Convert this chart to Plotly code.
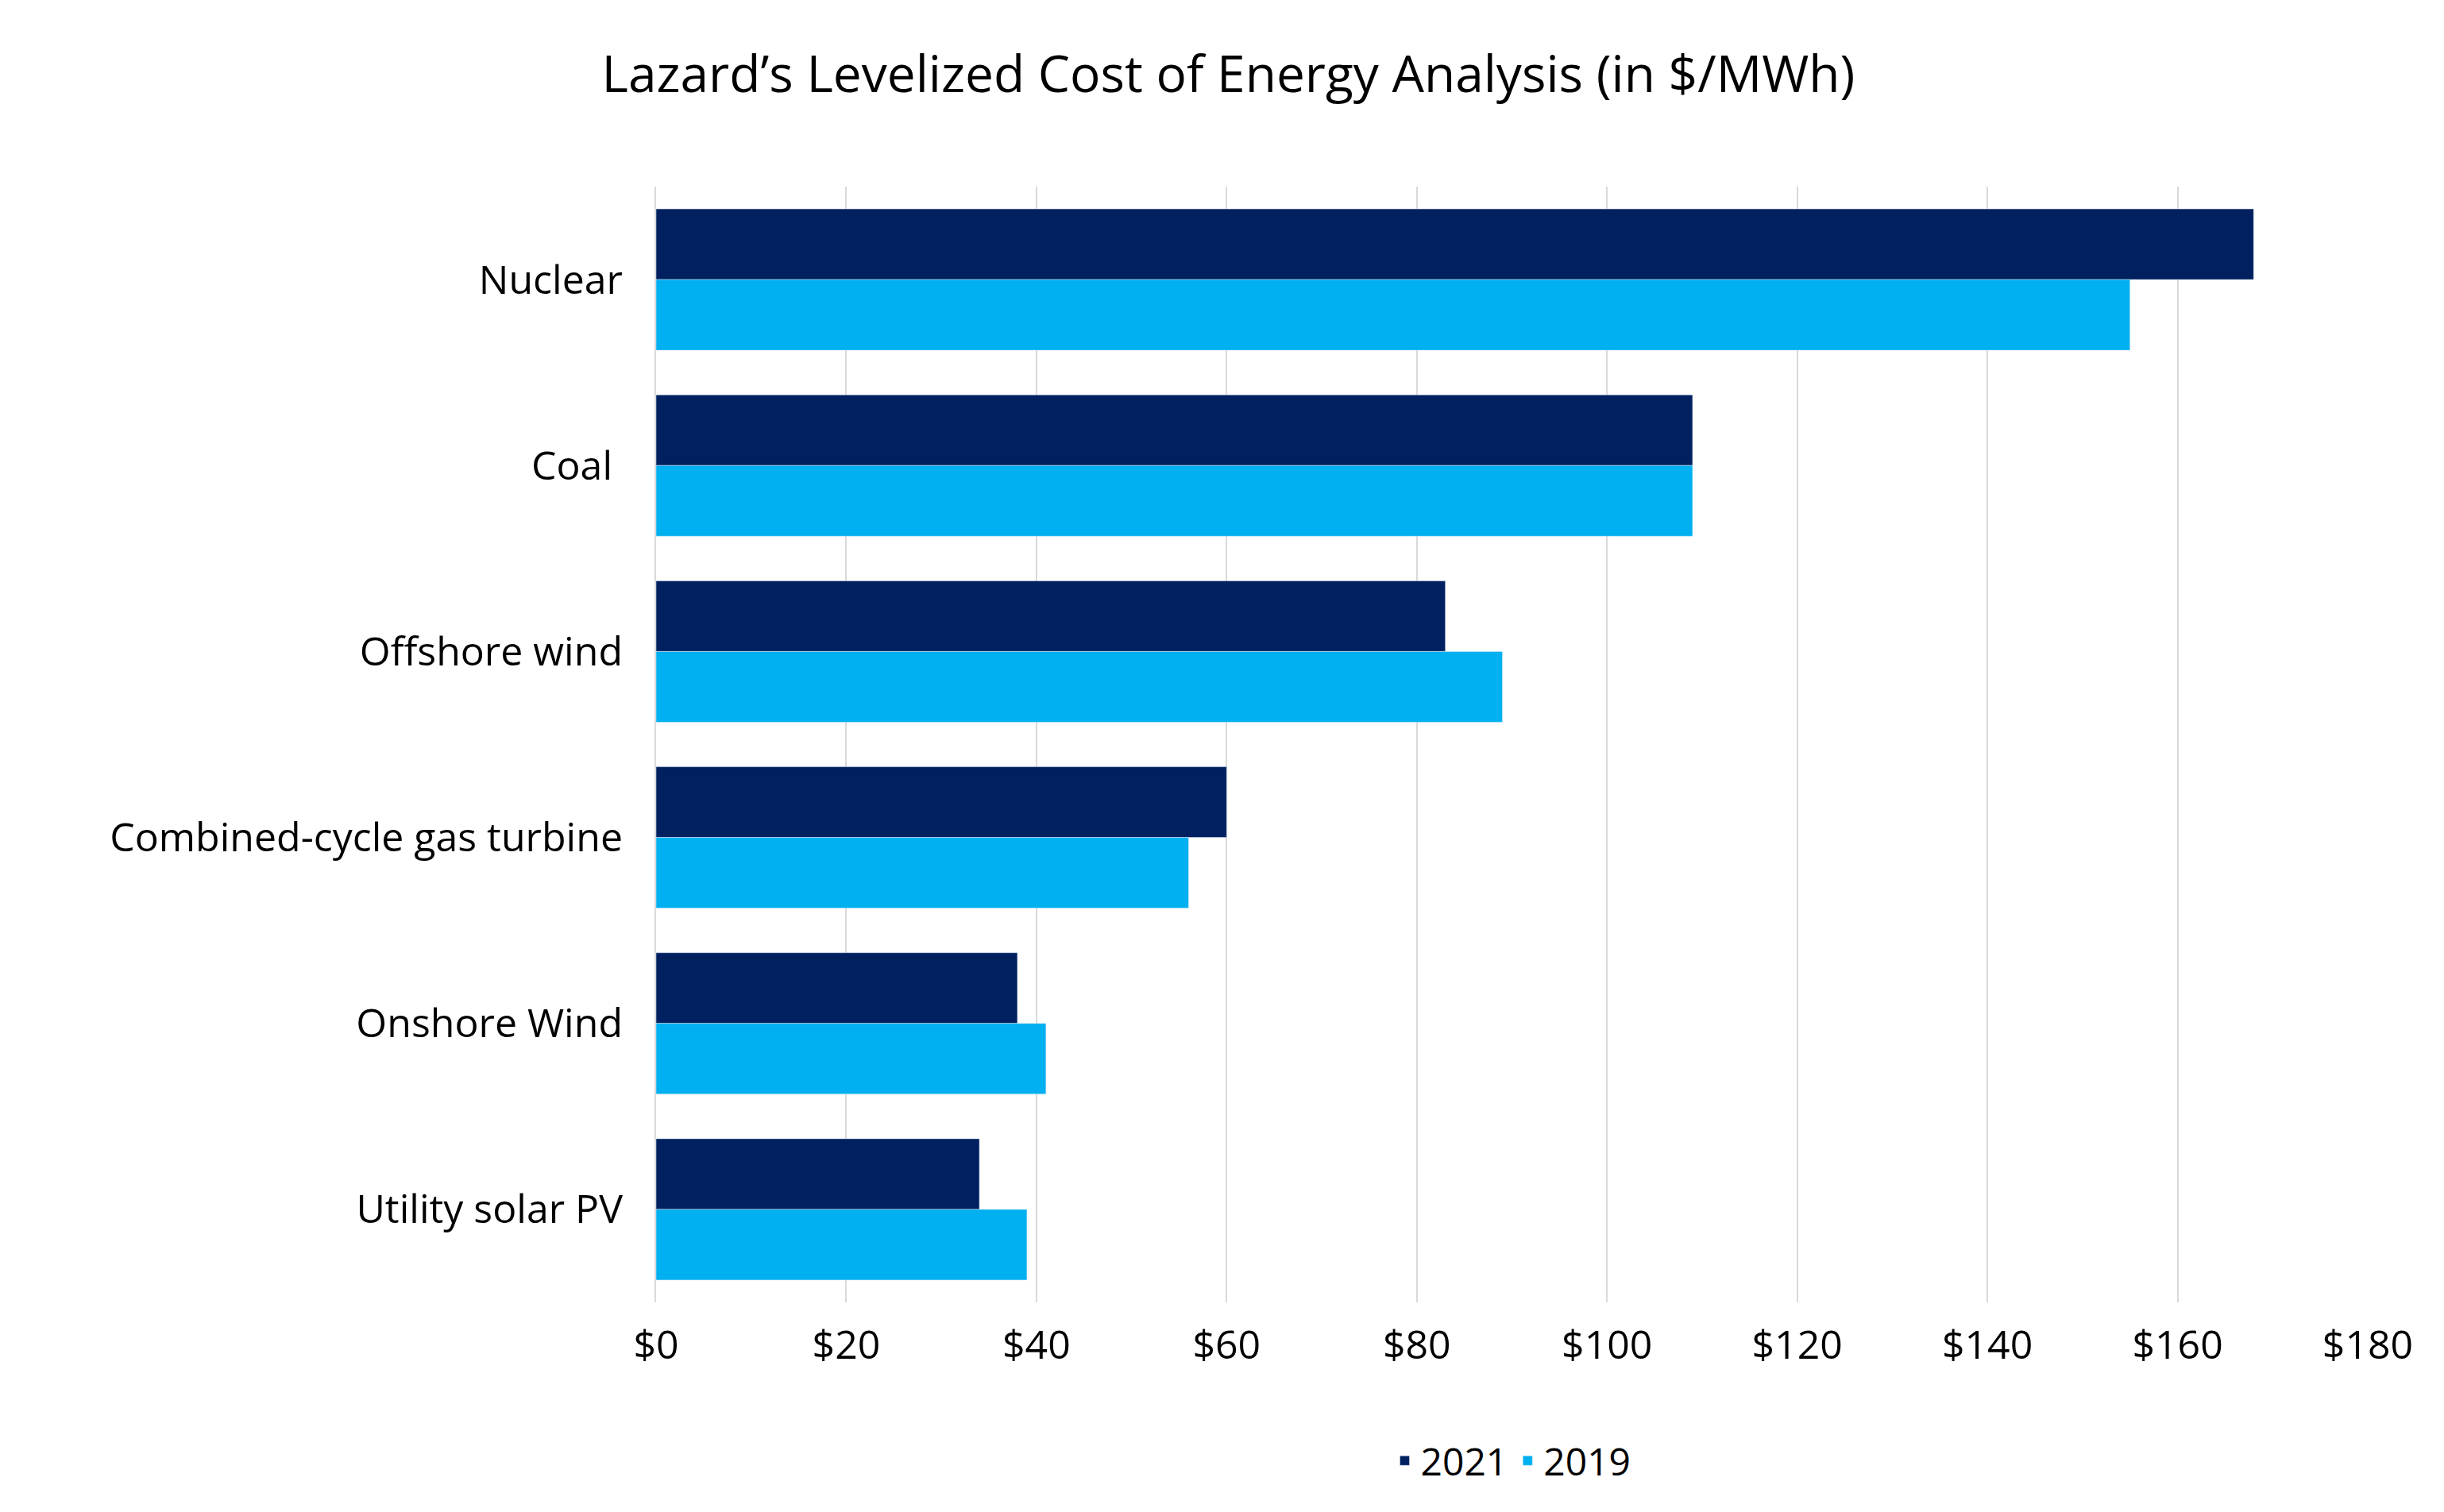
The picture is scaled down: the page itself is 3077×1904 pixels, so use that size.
import plotly.graph_objects as go

categories = ["Nuclear", "Coal ", "Offshore wind", "Combined-cycle gas turbine", "Onshore Wind", "Utility solar PV"]
values_2021 = [168, 109, 83, 60, 38, 34]
values_2019 = [155, 109, 89, 56, 41, 39]
tick_vals = [0, 20, 40, 60, 80, 100, 120, 140, 160, 180]
tick_text = ["$" + str(v) for v in tick_vals]

fig = go.Figure()
fig.add_trace(go.Bar(y=categories, x=values_2021, name="2021", orientation="h", marker_color="#002060"))
fig.add_trace(go.Bar(y=categories, x=values_2019, name="2019", orientation="h", marker_color="#00B0F0"))

font = "Open Sans, Noto Sans, sans-serif"
fig.update_layout(
    width=3077, height=1904,
    paper_bgcolor="white", plot_bgcolor="white",
    barmode="group", bargap=0.24, bargroupgap=0,
    margin=dict(l=818, r=104, t=227, b=272),
    title=dict(text="Lazard’s Levelized Cost of Energy Analysis (in $/MWh)", x=0.5, xanchor="center",
               y=0.955, yanchor="middle", font=dict(family=font, size=64, color="black")),
    font=dict(family=font, size=50, color="black"),
    legend=dict(orientation="h", x=0.5, xanchor="center", y=-0.115, yanchor="top",
                font=dict(size=48)),
    xaxis=dict(range=[0, 180], tickvals=tick_vals, ticktext=tick_text, showgrid=True,
               gridcolor="#D9D9D9", gridwidth=2, zeroline=False, ticks="", ticklabelstandoff=20),
    yaxis=dict(autorange="reversed", showline=True, linecolor="#D9D9D9", linewidth=2,
               ticks="", ticklabelstandoff=30),
)
fig.write_html("out.html")
